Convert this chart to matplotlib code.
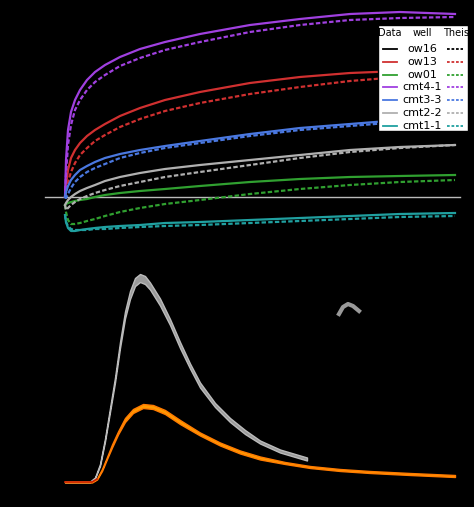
import matplotlib
matplotlib.use("Agg")
import matplotlib.pyplot as plt
import numpy as np
from matplotlib.patches import Rectangle

wells = ["ow16", "ow13", "ow01", "cmt4-1", "cmt3-3", "cmt2-2", "cmt1-1"]
colors = ["#000000", "#d03030", "#30a030", "#a040e0", "#4a78e0", "#b0b0b0", "#20a0a0"]

# top panel (pixel-like units, y downward)
tx = [65, 66, 68, 71, 75, 80, 87, 95, 105, 120, 140, 165, 200, 250, 300, 350, 400, 455]
solid = {
    "ow13":   [197, 185, 170, 158, 150, 143, 136, 130, 124, 116, 108, 100, 92, 83, 77, 73, 71, 70],
    "ow01":   [205, 204, 203, 202, 201, 200, 199, 197, 195, 193, 191, 189, 186, 182, 179, 177, 176, 175],
    "cmt4-1": [197, 160, 130, 112, 100, 90, 80, 72, 65, 57, 49, 42, 34, 25, 19, 14, 12, 14],
    "cmt3-3": [197, 192, 186, 180, 175, 170, 166, 162, 158, 154, 150, 146, 141, 134, 128, 124, 120, 118],
    "cmt2-2": [205, 203, 200, 197, 194, 191, 188, 185, 181, 177, 173, 169, 165, 160, 155, 150, 147, 145],
    "cmt1-1": [215, 222, 228, 231, 231, 230, 229, 228, 227, 226, 225, 223, 222, 220, 218, 216, 214, 213],
}
dashed = {
    "ow13":   [197, 192, 182, 172, 163, 155, 148, 141, 135, 127, 119, 111, 103, 94, 87, 81, 77, 75],
    "ow01":   [205, 212, 220, 224, 224, 223, 221, 219, 216, 212, 208, 204, 200, 194, 189, 185, 182, 180],
    "cmt4-1": [197, 175, 145, 125, 110, 100, 90, 82, 75, 66, 58, 50, 42, 32, 25, 20, 18, 17],
    "cmt3-3": [197, 198, 194, 188, 182, 177, 172, 168, 164, 158, 153, 148, 143, 136, 130, 126, 122, 120],
    "cmt2-2": [205, 210, 208, 205, 202, 199, 196, 193, 190, 186, 182, 177, 172, 165, 158, 152, 148, 145],
    "cmt1-1": [215, 222, 226, 229, 230, 230, 230, 229, 229, 228, 227, 226, 225, 223, 221, 219, 217, 216],
}

gx = [65, 90, 95, 100, 105, 110, 115, 120, 125, 130, 135, 140, 145, 150, 160, 170, 180, 190, 200, 215, 230, 245, 260, 280, 307]
gy = [482, 482, 478, 465, 440, 410, 380, 345, 315, 295, 282, 278, 280, 286, 302, 322, 345, 366, 385, 405, 420, 432, 442, 451, 459]
gw = [1, 1, 1, 2, 3, 4, 5, 6, 7, 8, 8, 8, 8, 7, 7, 6, 6, 5, 5, 4, 4, 4, 3, 3, 3]
ox = [65, 92, 97, 102, 107, 112, 118, 125, 133, 143, 153, 165, 180, 200, 220, 240, 260, 285, 310, 340, 370, 410, 455]
oy = [482, 482, 479, 470, 458, 446, 433, 420, 411, 406, 407, 412, 422, 434, 444, 452, 458, 463, 467, 470, 472, 474, 476]
ow = [1, 1, 1, 2, 2, 3, 3, 4, 4, 4, 4, 4, 4, 3, 3, 3, 3, 2, 2, 2, 2, 2, 2]

fig = plt.figure(figsize=(4.74, 5.07), dpi=100, facecolor="black")
ax = fig.add_axes([0, 0, 1, 1], facecolor="black")
ax.set_xlim(0, 474)
ax.set_ylim(507, 0)
ax.axis("off")

ax.plot([45, 460], [197, 197], color="#bbbbbb", lw=1)
for w, c in zip(wells, colors):
    if w in solid:
        ax.plot(tx, solid[w], color=c, lw=1.6)
        ax.plot(tx, dashed[w], color=c, lw=1.6, ls=(0, (2, 1)))

gy, gw, oy, ow = map(np.array, (gy, gw, oy, ow))
ax.fill_between(gx, gy - gw / 2, gy + gw / 2, color="#9a9a9a", lw=1, edgecolor="#bbbbbb")
ax.fill_between(ox, oy - ow / 2, oy + ow / 2, color="#ff9a00", lw=1, edgecolor="#ff7a00")
ax.plot(ox[:3], oy[:3], color="#cc2200", lw=1.2)
ax.plot([339, 343, 348, 353, 359], [314, 307, 304, 306, 311], color="#999999", lw=3)

# legend
ax.add_patch(Rectangle((378, 25), 90, 106, facecolor="white", edgecolor="black", zorder=5))
ax.text(390, 33, "Data", fontsize=7, ha="center", va="center", zorder=6)
ax.text(422, 33, "well", fontsize=7, ha="center", va="center", zorder=6)
ax.text(456, 33, "Theis", fontsize=7, ha="center", va="center", zorder=6)
for i, (w, c) in enumerate(zip(wells, colors)):
    y = 49 + i * 12.8
    ax.plot([383, 397], [y, y], color=c, lw=1.3, zorder=6)
    ax.plot([447, 463], [y, y], color=c, lw=1.3, ls=(0, (1.5, 1)), zorder=6)
    ax.text(422, y, w, fontsize=8, ha="center", va="center", zorder=6)

fig.savefig("out.png", dpi=100, facecolor="black")
